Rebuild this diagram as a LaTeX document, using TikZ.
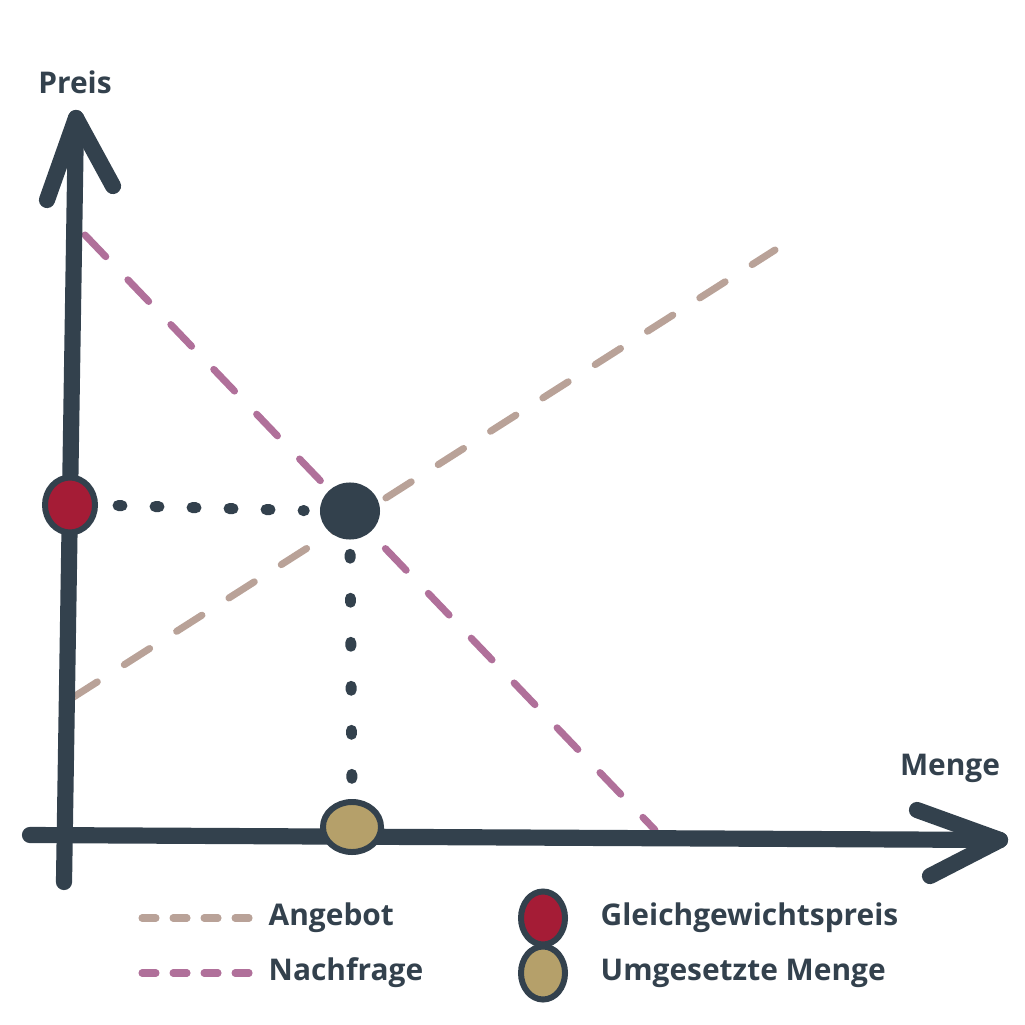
\documentclass[tikz,border=0pt]{standalone}
\usepackage{fontspec}
\setmainfont{Open Sans}
\usetikzlibrary{shapes.geometric}
\definecolor{ink}{HTML}{33414D}
\definecolor{eqred}{HTML}{A51C36}
\definecolor{gold}{HTML}{B5A06A}
\definecolor{supply}{HTML}{B9A298}
\definecolor{demand}{HTML}{B0709A}
\begin{document}
\begin{tikzpicture}[x=0.01cm,y=-0.01cm,
  axis/.style={draw=ink,line width=4.6pt,line cap=round,line join=round},
  supplyline/.style={draw=supply,line width=2pt,line cap=round,dash pattern=on 0.3cm off 0.32cm},
  demandline/.style={draw=demand,line width=2pt,line cap=round,dash pattern=on 0.3cm off 0.32cm},
  legsupply/.style={draw=supply,line width=2pt,line cap=round,dash pattern=on 0.14cm off 0.17cm},
  legdemand/.style={draw=demand,line width=2pt,line cap=round,dash pattern=on 0.14cm off 0.17cm},
  dotline/.style={draw=ink,line width=3.1pt,line cap=round},
  hdots/.style={dotline,dash pattern=on 0.04cm off 0.33cm},
  vdots/.style={dotline,dash pattern=on 0.04cm off 0.4cm},
  marker/.style={ellipse,draw=ink,line width=1.7pt,inner sep=0pt},
  lbl/.style={text=ink,font=\fontsize{8.5}{10}\selectfont\bfseries,inner sep=0pt},
  leg/.style={lbl,anchor=west}]
\useasboundingbox (0,0) rectangle (1025,1025);

% supply & demand
\coordinate (s1) at (72,698);
\coordinate (s2) at (775,250);
\coordinate (d1) at (85,235);
\coordinate (d2) at (655,830);
\draw[supplyline] (s1) -- (s2);
\draw[demandline] (d1) -- (d2);

% axes
\coordinate (ybot) at (64,882);
\coordinate (ytop) at (76,118);
\coordinate (xleft) at (30,835);
\coordinate (xright) at (1000,840);
\draw[axis] (ybot) -- (ytop);
\draw[axis] (47,200) -- (ytop) -- (113,186);
\draw[axis] (xleft) -- (xright);
\draw[axis] (917,810) -- (xright) -- (930,876);

% nodes
\node[ellipse,fill=ink,minimum width=0.6cm,minimum height=0.57cm,inner sep=0pt] (eq) at (350,511) {};
\node[marker,fill=eqred,minimum width=0.5cm,minimum height=0.55cm] (p) at (70,505) {};
\node[marker,fill=gold,minimum width=0.58cm,minimum height=0.5cm] (q) at (352,827) {};

\draw[hdots,shorten <=0.2cm,shorten >=0.15cm] (p.east) -- (eq.west);
\draw[vdots,shorten <=0.14cm,shorten >=0.12cm] (eq.south) -- (q.north);

% axis labels
\node[lbl] (preis) at (75,82) {Preis};
\node[lbl] (menge) at (950,768) {Menge};

% legend
\coordinate (la1) at (142,918);
\coordinate (la2) at (250,918);
\coordinate (ln1) at (142,973);
\coordinate (ln2) at (250,973);
\draw[legsupply] (la1) -- (la2);
\draw[legdemand] (ln1) -- (ln2);
\node[leg] (angebot) at (268,918) {Angebot};
\node[leg] (nachfrage) at (268,973) {Nachfrage};
\node[marker,fill=eqred,minimum width=0.44cm,minimum height=0.53cm] (lp) at (543,918) {};
\node[marker,fill=gold,minimum width=0.44cm,minimum height=0.53cm] (lq) at (543,973) {};
\node[leg] (gg) at (600,918) {Gleichgewichtspreis};
\node[leg] (um) at (600,973) {Umgesetzte Menge};
\end{tikzpicture}
\end{document}
